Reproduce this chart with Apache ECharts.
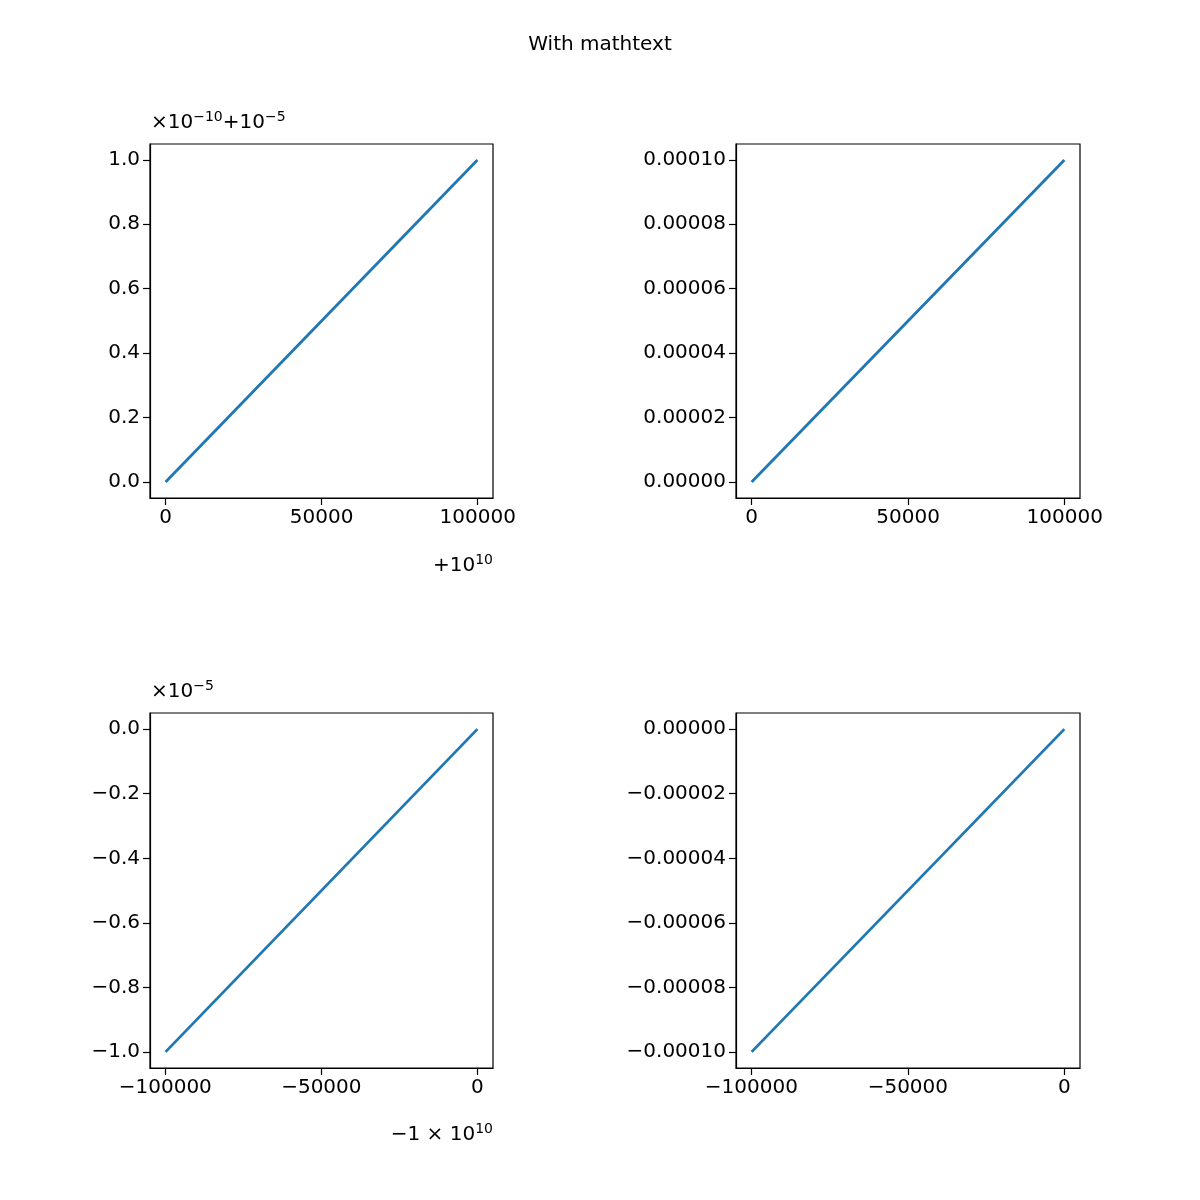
<!DOCTYPE html>
<html><head><meta charset="utf-8">
<script src="https://cdn.jsdelivr.net/npm/echarts@6/dist/echarts.min.js"></script>
<style>html,body{margin:0;background:#fff}#c{width:1200px;height:1200px}</style>
</head><body><div id="c"></div>
<script>
// data per panel (values as shown on the axes, offsets drawn as text)
var xPos = [0, 99900];
var xNeg = [-99900, 0];
var yTL = [0, 0.999];
var yTR = [0, 0.0000999];
var yBL = [-0.999, 0];
var yBR = [-0.0000999, 0];
var xTicksPos = [0, 50000, 100000];
var xTicksNeg = [-100000, -50000, 0];
var yTicksTL = [0, 0.2, 0.4, 0.6, 0.8, 1.0];
var yTicksTR = [0, 0.00002, 0.00004, 0.00006, 0.00008, 0.0001];
var yTicksBL = [-1.0, -0.8, -0.6, -0.4, -0.2, 0];
var yTicksBR = [-0.0001, -0.00008, -0.00006, -0.00004, -0.00002, 0];

var font = 'DejaVu Sans';
function fmt(d) {
  return function (v) {
    var s = Math.abs(v).toFixed(d);
    return (v < -1e-12 ? '\u2212' : '') + s;
  };
}
var grids = [
  {left: 150, top: 144, width: 343, height: 354},
  {left: 736, top: 144, width: 344, height: 354},
  {left: 150, top: 713, width: 343, height: 355},
  {left: 736, top: 713, width: 344, height: 355}
];
grids.forEach(function (g) { g.show = true; g.borderColor = '#000'; g.borderWidth = 1.2; g.backgroundColor = 'transparent'; });

function ext(a, b) { var r = b - a; return [a - 0.05 * r, b + 0.05 * r]; }
function axis(gi, range, ticks, f) {
  return {
    type: 'value', gridIndex: gi, min: range[0], max: range[1],
    axisLine: {show: true, onZero: false, lineStyle: {color: '#000', width: 1.2}},
    axisTick: {show: true, length: 7, customValues: ticks, lineStyle: {color: '#000', width: 1.2}},
    axisLabel: {customValues: ticks, formatter: f, color: '#000', fontFamily: font, fontSize: 20, margin: 10},
    splitLine: {show: false}
  };
}
var sets = [[xPos, yTL, xTicksPos, yTicksTL, 1], [xPos, yTR, xTicksPos, yTicksTR, 5],
            [xNeg, yBL, xTicksNeg, yTicksBL, 1], [xNeg, yBR, xTicksNeg, yTicksBR, 5]];
var xAxes = [], yAxes = [], series = [];
sets.forEach(function (s, i) {
  xAxes.push(axis(i, ext(s[0][0], s[0][1]), s[2], fmt(0)));
  yAxes.push(axis(i, ext(s[1][0], s[1][1]), s[3], fmt(s[4])));
  series.push({type: 'line', xAxisIndex: i, yAxisIndex: i, showSymbol: false, animation: false,
    data: s[0].map(function (x, k) { return [x, s[1][k]]; }),
    lineStyle: {color: '#1f77b4', width: 2.8}});
});
var rich = {t: {fontSize: 20, fontFamily: font, color: '#000'}, s: {fontSize: 14, fontFamily: font, color: '#000', verticalAlign: 'top', padding: [0, 0, 12, 0]}};
var chart = echarts.init(document.getElementById('c'));
chart.setOption({
  backgroundColor: '#fff',
  title: {text: 'With mathtext', left: 'center', top: 30, textStyle: {fontFamily: font, fontSize: 20, fontWeight: 'normal', color: '#000'}},
  grid: grids, xAxis: xAxes, yAxis: yAxes, series: series,
  graphic: [
    {type: 'text', x: 151, y: 110, style: {text: '{t|\u00d710}{s|\u221210}{t|+10}{s|\u22125}', rich: rich}},
    {type: 'text', x: 493, y: 553, style: {text: '{t|+10}{s|10}', rich: rich, align: 'right'}},
    {type: 'text', x: 151, y: 679, style: {text: '{t|\u00d710}{s|\u22125}', rich: rich}},
    {type: 'text', x: 493, y: 1122, style: {text: '{t|\u22121 \u00d7 10}{s|10}', rich: rich, align: 'right'}}
  ]
});
</script></body></html>
